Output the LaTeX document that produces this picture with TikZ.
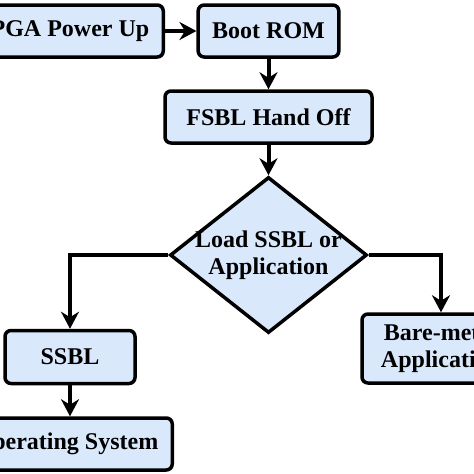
\documentclass[tikz,border=0pt]{standalone}
\usepackage{fontspec}
\setmainfont{Liberation Serif}
\usepackage{tikz}
\usetikzlibrary{shapes,arrows.meta,positioning,calc}
\definecolor{boxblue}{RGB}{218,232,252}

\begin{document}
\begin{tikzpicture}[
    x=1pt, y=-1pt,
    stage/.style={rectangle, draw=black, fill=boxblue, line width=3.5pt, rounded corners=6pt,
                  minimum height=52pt, inner xsep=14pt, align=center,
                  font=\fontsize{24}{27}\selectfont\bfseries},
    choose/.style={diamond, draw=black, fill=boxblue, line width=3.5pt,
                   minimum width=197pt, minimum height=156pt, inner sep=0pt},
    flow/.style={line width=4pt, -{Stealth[length=17pt, width=18pt]}}
]
\useasboundingbox (0,0) rectangle (474,474);
\clip (0,0) rectangle (474,474);

\node[stage, anchor=east] (power) at (165, 31) {FPGA Power Up};
\node[stage, minimum width=139pt] (boot) at (268.5, 31) {Boot ROM};
\node[stage, minimum width=207pt] (fsbl) at (268.5, 117) {FSBL Hand Off};
\node[choose] (choice) at (268.5, 255) {};
\node[align=center, font=\fontsize{24}{27}\selectfont\bfseries] (choicelbl) at (268.5, 255) {Load SSBL or\\Application};
\node[stage, minimum width=130pt, minimum height=53pt] (ssbl) at (70, 357) {SSBL};
\node[stage, anchor=east] (os) at (174, 444) {Operating System};
\node[stage, minimum width=158pt, minimum height=69pt] (bare) at (441, 348.5) {Bare-metal\\Application};

% Flow
\draw[flow] (power) -- (boot);
\draw[flow] (boot) -- (fsbl);
\draw[flow] (fsbl) -- (choice);
\draw[flow] (choice.west) -| (ssbl);
\draw[flow] (choice.east) -| (bare);
\draw[flow] (ssbl) -- (ssbl |- os.north);

\end{tikzpicture}
\end{document}
